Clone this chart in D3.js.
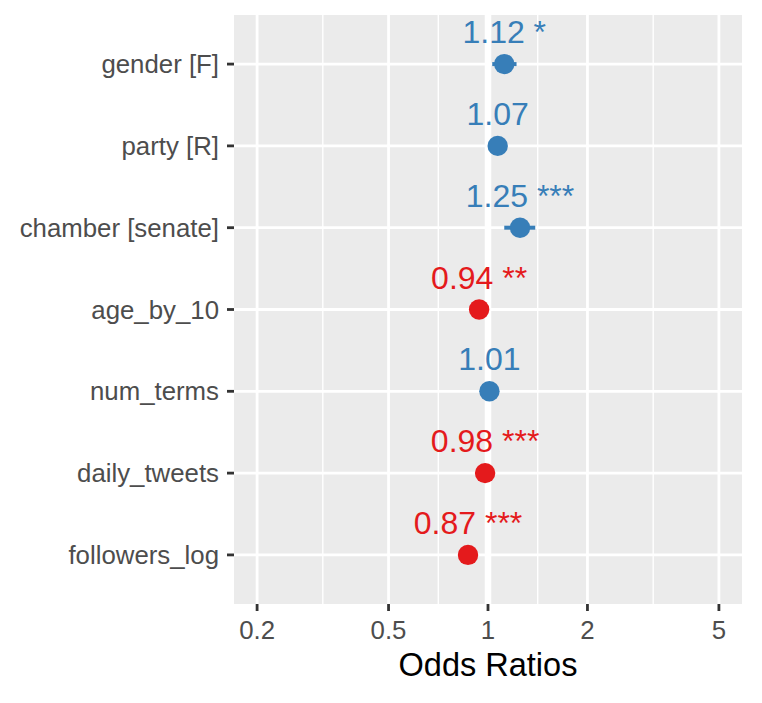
<!DOCTYPE html>
<html>
<head>
<meta charset="utf-8">
<script src="https://cdn.jsdelivr.net/npm/d3@7"></script>
<style>
  html, body { margin: 0; padding: 0; background: #ffffff; }
  svg { display: block; font-family: "Liberation Sans", Arial, Helvetica, sans-serif; }
</style>
</head>
<body>
<svg id="chart" width="762" height="703"></svg>
<script>
// ---- data ----
const terms = ["gender [F]", "party [R]", "chamber [senate]", "age_by_10", "num_terms", "daily_tweets", "followers_log"];
const estimates = [1.12, 1.07, 1.25, 0.94, 1.01, 0.98, 0.87];
const ciLow  = [1.03, 1.00, 1.12, 0.91, 0.98, 0.97, 0.85];
const ciHigh = [1.22, 1.14, 1.39, 0.97, 1.04, 0.99, 0.89];
const stars  = ["*", "", "***", "**", "", "***", "***"];
const xTicks = [0.2, 0.5, 1, 2, 5];
const xLimits = [0.2, 5];
const xTitle = "Odds Ratios";

// ---- layout ----
const panel = { left: 234, right: 742, top: 15, bottom: 604 };
const W = panel.right - panel.left;
const expand = 0.05 / 1.1 * W;

const svg = d3.select("#chart");

const x = d3.scaleLog().domain(xLimits)
  .range([panel.left + expand, panel.right - expand]);
const y = d3.scalePoint().domain(terms)
  .range([panel.top, panel.bottom]).padding(0.6);

const colPos = "#377eb8", colNeg = "#e41a1c";
const color = v => v > 1 ? colPos : colNeg;

// panel background
svg.append("rect")
  .attr("x", panel.left).attr("y", panel.top)
  .attr("width", W).attr("height", panel.bottom - panel.top)
  .attr("fill", "#ebebeb");

// minor gridlines (geometric midpoints between major breaks)
const minor = d3.pairs(xTicks).map(([a, b]) => Math.sqrt(a * b));
svg.append("g").selectAll("line").data(minor).join("line")
  .attr("x1", d => x(d)).attr("x2", d => x(d))
  .attr("y1", panel.top).attr("y2", panel.bottom)
  .attr("stroke", "#ffffff").attr("stroke-width", 1.4);

// major vertical gridlines
svg.append("g").selectAll("line").data(xTicks).join("line")
  .attr("x1", d => x(d)).attr("x2", d => x(d))
  .attr("y1", panel.top).attr("y2", panel.bottom)
  .attr("stroke", "#ffffff").attr("stroke-width", 2.8);

// horizontal gridlines
svg.append("g").selectAll("line").data(terms).join("line")
  .attr("x1", panel.left).attr("x2", panel.right)
  .attr("y1", d => y(d)).attr("y2", d => y(d))
  .attr("stroke", "#ffffff").attr("stroke-width", 2.8);

// reference line at 1
svg.append("line")
  .attr("x1", x(1)).attr("x2", x(1))
  .attr("y1", panel.top).attr("y2", panel.bottom)
  .attr("stroke", "#ffffff").attr("stroke-width", 6.5);

const rows = terms.map((t, i) => ({ term: t, est: estimates[i], lo: ciLow[i], hi: ciHigh[i], star: stars[i] }));

// error bars
svg.append("g").selectAll("line").data(rows).join("line")
  .attr("x1", d => x(d.lo)).attr("x2", d => x(d.hi))
  .attr("y1", d => y(d.term)).attr("y2", d => y(d.term))
  .attr("stroke", d => color(d.est)).attr("stroke-width", 4);

// points
svg.append("g").selectAll("circle").data(rows).join("circle")
  .attr("cx", d => x(d.est)).attr("cy", d => y(d.term))
  .attr("r", 10.2)
  .attr("fill", d => color(d.est));

// value labels
svg.append("g").selectAll("text").data(rows).join("text")
  .attr("x", d => x(d.est)).attr("y", d => y(d.term) - 21)
  .attr("text-anchor", "middle")
  .attr("font-size", 32)
  .attr("fill", d => color(d.est))
  .text(d => d.est.toFixed(2) + (d.star ? " " + d.star : ""));

// y axis ticks and labels
const yAxis = svg.append("g");
yAxis.selectAll("line").data(terms).join("line")
  .attr("x1", panel.left - 7).attr("x2", panel.left)
  .attr("y1", d => y(d)).attr("y2", d => y(d))
  .attr("stroke", "#333333").attr("stroke-width", 2.8);
yAxis.selectAll("text").data(terms).join("text")
  .attr("x", panel.left - 15).attr("y", d => y(d))
  .attr("dy", "0.35em")
  .attr("text-anchor", "end")
  .attr("font-size", 25.8)
  .attr("fill", "#4d4d4d")
  .text(d => d);

// x axis ticks and labels
const xAxis = svg.append("g");
xAxis.selectAll("line").data(xTicks).join("line")
  .attr("x1", d => x(d)).attr("x2", d => x(d))
  .attr("y1", panel.bottom).attr("y2", panel.bottom + 7)
  .attr("stroke", "#333333").attr("stroke-width", 2.8);
xAxis.selectAll("text").data(xTicks).join("text")
  .attr("x", d => x(d)).attr("y", panel.bottom + 35)
  .attr("text-anchor", "middle")
  .attr("font-size", 25.8)
  .attr("fill", "#4d4d4d")
  .text(d => String(d));

// x title
svg.append("text")
  .attr("x", (panel.left + panel.right) / 2).attr("y", panel.bottom + 72)
  .attr("text-anchor", "middle")
  .attr("font-size", 32.5)
  .attr("fill", "#000000")
  .text(xTitle);
</script>
</body>
</html>
